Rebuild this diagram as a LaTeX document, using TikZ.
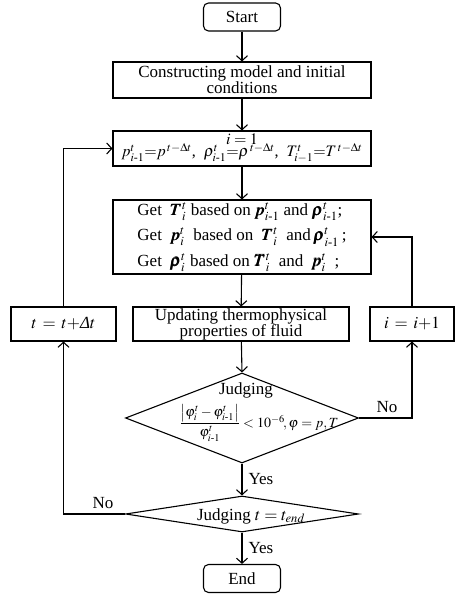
\documentclass[tikz,border=0pt]{standalone}
\usepackage{amsmath}
\usepackage{mathptmx}
\usepackage{fontspec}
\setmainfont{Liberation Serif}
\usetikzlibrary{
  arrows.meta,
  positioning,
  shapes.geometric
}
\tikzset{
  >={Straight Barb[length=5pt,width=11pt]},
  line cap=round,
  line join=round,
  every picture/.style={line width=1.1pt},
  basefont/.style={font=\fontsize{17}{16}\selectfont},
  box/.style={draw, basefont, minimum width=258pt, minimum height=36pt, align=center, inner sep=0pt},
  smallbox/.style={draw, basefont, minimum height=34pt, align=center, inner sep=0pt},
  termbox/.style={draw, basefont, rounded corners=5pt, minimum width=77pt, minimum height=28pt, inner sep=0pt},
  decision/.style={draw, diamond, inner sep=0pt},
  arrow/.style={->},
  lbl/.style={basefont, inner sep=0pt}
}
\newcommand{\bsym}[1]{\pmb{#1}}

\begin{document}
\begin{tikzpicture}[x=1pt, y=1pt]
  \useasboundingbox (0,0) rectangle (474,594);

  \node[termbox] (start) at (242,577) {Start};
  \node[box] (model) at (242,514) {Constructing model and initial\\conditions};
  \node[box, minimum height=35pt, font=\fontsize{16}{14}\selectfont] (init) at (242,445.5)
    {$i=1$\\[-2pt]
     \smash[t]{$p^{t}_{i\text{-}1}{=}p^{\,t-\Delta t}$,\ \ $\rho^{t}_{i\text{-}1}{=}\rho^{\,t-\Delta t}$,\ \ $T^{t}_{i-1}{=}T^{\,t-\Delta t}$}};
  \node[box, minimum height=74pt, align=left] (solve) at (242,357)
    {Get \ $\bsym{T}^{t}_{i}$ based on $\bsym{p}^{t}_{i\text{-}1}$ and $\bsym{\rho}^{t}_{i\text{-}1}$;\\[6pt]
     Get \ $\bsym{p}^{t}_{i}$ \ based on \ $\bsym{T}^{t}_{i}$ \ and\,$\bsym{\rho}^{t}_{i\text{-}1}$\,;\\[6pt]
     Get \ $\bsym{\rho}^{t}_{i}$ based on $\bsym{T}^{t}_{i}$ \ and \ $\bsym{p}^{t}_{i}$ \ ;};
  \node[smallbox, minimum width=216pt] (update) at (241,270)
    {Updating thermophysical\\properties of fluid};
  \node[smallbox, minimum width=105pt] (tstep) at (63.5,270) {$t\,=\,t{+}\text{\itshape Δ}t$};
  \node[smallbox, minimum width=84pt] (istep) at (412,270) {$i\,=\,i{+}1$};

  \node[decision, minimum width=233pt, minimum height=90pt] (conv) at (242,176) {};
  \node[lbl] (convhead) at (246,204) {Judging};
  \node[lbl, font=\fontsize{14}{14}\selectfont] (convrule) at (259,171)
    {$\dfrac{\left|\varphi^{t}_{i}-\varphi^{t}_{i\text{-}1}\right|}{\varphi^{t}_{i\text{-}1}}<10^{-6}\!,\varphi=p,T$};
  \node[decision, minimum width=233pt, minimum height=36pt] (tend) at (242,80) {};
  \node[lbl] (tendtext) at (251,78) {Judging $t=t_{end}$};

  \node[termbox] (end) at (242,15.5) {End};

  \draw[arrow] (start) -- (model);
  \draw[arrow] (model) -- (init);
  \draw[arrow] (init) -- (solve);
  \draw[arrow] (solve) -- (update);
  \draw[arrow] (update) -- (conv.north);
  \draw[arrow] (conv.south) -- (tend.north) node[lbl, midway, right=6pt] (yes1) {Yes};
  \draw[arrow] (tend.south) -- (end) node[lbl, midway, right=6pt] (yes2) {Yes};

  \draw[arrow] (conv.east) -| (istep.south);
  \node[lbl] (no1) at (387,187) {No};
  \draw[arrow] (istep.north) |- (solve.east);

  \draw[arrow] (tend.west) -| (tstep.south);
  \node[lbl] (no2) at (103,91) {No};
  \draw[arrow] (tstep.north) |- (init.west);
\end{tikzpicture}
\end{document}
